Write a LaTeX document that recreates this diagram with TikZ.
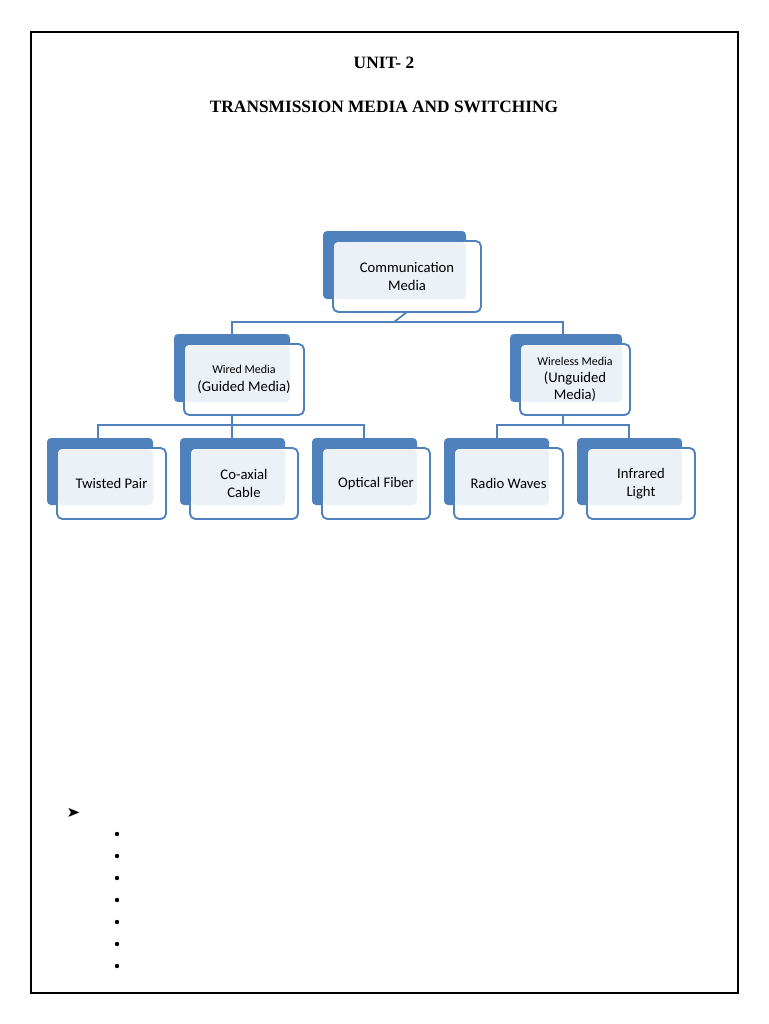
\documentclass[tikz,border=0pt]{standalone}
\usepackage{fontspec}
\setmainfont{Carlito}
\newfontfamily\titlefont{Liberation Serif}
\usepackage{pifont}
\usetikzlibrary{positioning}
\definecolor{boxblue}{RGB}{79,129,189}
\definecolor{boxlight}{RGB}{236,241,248}
\tikzset{
  back/.style={fill=boxblue, rounded corners=3pt},
  front/.style={draw=boxblue, line width=1.4pt, fill=white, rounded corners=4pt},
  inner/.style={fill=boxlight, rounded corners=3pt},
  label/.style={align=center, font=\fontsize{11}{13}\selectfont, inner sep=0pt},
  link/.style={draw=boxblue, line width=1.3pt},
  heading/.style={font=\titlefont\bfseries\fontsize{13}{15}\selectfont}
}
% box: name, back x0, back y0, back x1, back y1, front x1, front y1, text
\newcommand{\mediabox}[8]{%
  \path[back] (#2,#3) rectangle (#4,#5);
  \path[front] (#2+10,#3+10) rectangle (#6,#7);
  \path[inner] (#2+11,#3+11) rectangle (#4,#5);
  \node[label] (#1) at ({(#2+10+#6)/2},{(#3+10+#7)/2}) {#8};
  \coordinate (#1-t) at ({(#2+10+#6)/2},#3+10);
  \coordinate (#1-b) at ({(#2+10+#6)/2},#7);
}
\begin{document}
\begin{tikzpicture}[x=0.75pt,y=-0.75pt]
\useasboundingbox (0,0) rectangle (768,1024);
\draw[line width=1.6pt] (31,32) rectangle (738,993);

\node[heading] (unit) at (384,63) {UNIT- 2};
\node[heading] (title) at (384,107) {TRANSMISSION MEDIA AND SWITCHING};

\mediabox{comm}{323}{231}{466}{299}{481}{312}{Communication\\Media}
\mediabox{wired}{174}{334}{290}{402}{304}{415}{\small Wired Media\\(Guided Media)}
\mediabox{wireless}{510}{334}{622}{402}{630}{415}{\small Wireless Media\\(Unguided\\Media)}
\mediabox{twisted}{47}{438}{153}{505}{166}{519}{Twisted Pair}
\mediabox{coax}{180}{438}{285}{505}{298}{519}{Co-axial\\Cable}
\mediabox{optical}{312}{438}{417}{505}{430}{519}{Optical Fiber}
\mediabox{radio}{444}{438}{549}{505}{563}{519}{Radio Waves}
\mediabox{infra}{577}{438}{682}{505}{695}{519}{Infrared\\Light}

% tree links
\coordinate (j1) at (394,322);
\coordinate (j2) at (232,425);
\coordinate (j3) at (563,425);
\draw[link] (comm-b) -- (j1);
\draw[link] (j1) -| (wired-t -| j2);
\draw[link] (j1) -| (wireless-t -| j3);
\draw[link] (wired-b -| j2) -- (j2);
\draw[link] (j2) -| (twisted-t -| 98,0);
\draw[link] (j2) -- (coax-t -| j2);
\draw[link] (j2) -| (optical-t -| 364,0);
\draw[link] (wireless-b -| j3) -- (j3);
\draw[link] (j3) -| (radio-t -| 497,0);
\draw[link] (j3) -| (infra-t -| 629,0);

% empty list
\node (arrow) at (74,813) {\ding{228}};
\foreach \i in {0,...,6}
  \fill (117,834+\i*22) circle (2.2);
\end{tikzpicture}
\end{document}
